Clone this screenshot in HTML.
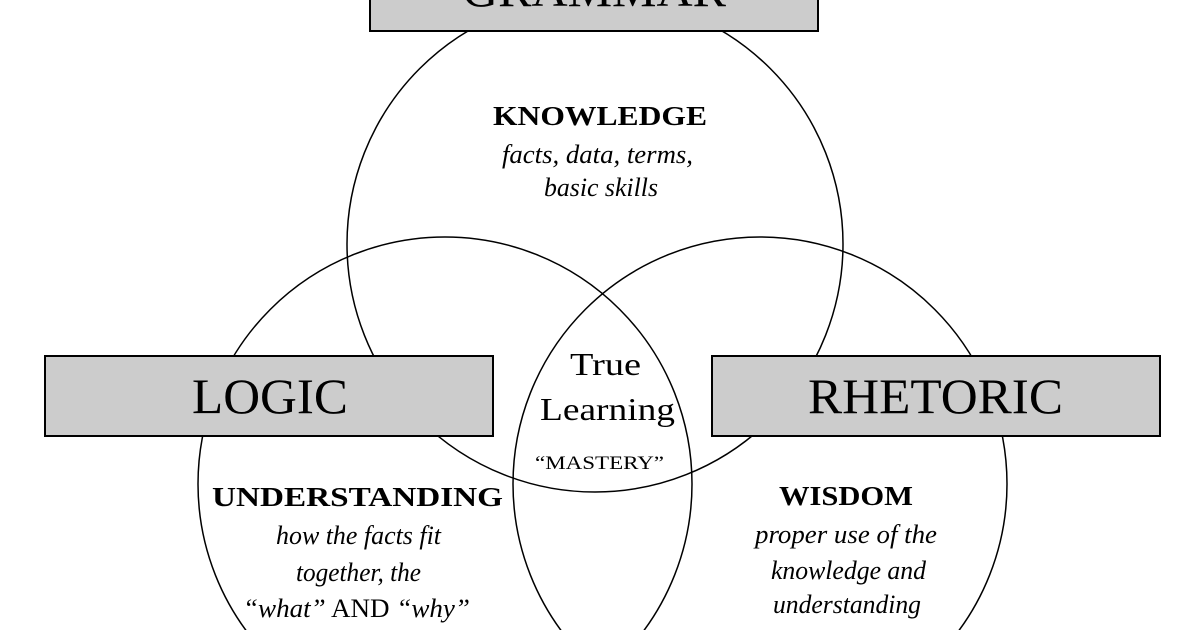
<!DOCTYPE html>
<html><head><style>
html,body{margin:0;padding:0;background:#fff;width:1200px;height:630px;overflow:hidden;}
svg{display:block;}
text{font-family:"Liberation Serif",serif;fill:#000;}
</style></head><body>
<svg width="1200" height="630" viewBox="0 0 1200 630" xmlns="http://www.w3.org/2000/svg">
<g fill="none" stroke="#000" stroke-width="1.5">
<circle cx="595" cy="244" r="248"/>
<circle cx="445" cy="484" r="247"/>
<circle cx="760" cy="484" r="247"/>
</g>
<rect x="370" y="-20" width="448" height="51" fill="#cccccc" stroke="#000" stroke-width="2"/>
<text x="594" y="6" font-size="50" text-anchor="middle">GRAMMAR</text>
<rect x="45" y="356" width="448" height="80" fill="#cccccc" stroke="#000" stroke-width="2"/>
<text x="192" y="413" font-size="50" textLength="156" lengthAdjust="spacingAndGlyphs">LOGIC</text>
<rect x="712" y="356" width="448" height="80" fill="#cccccc" stroke="#000" stroke-width="2"/>
<text x="808" y="413" font-size="50" textLength="255" lengthAdjust="spacingAndGlyphs">RHETORIC</text>
<text x="493" y="125" font-size="27" font-weight="bold" textLength="214" lengthAdjust="spacingAndGlyphs">KNOWLEDGE</text>
<text x="502" y="163" font-size="26" font-style="italic" textLength="191" lengthAdjust="spacingAndGlyphs">facts, data, terms,</text>
<text x="544" y="196" font-size="26" font-style="italic" textLength="114" lengthAdjust="spacingAndGlyphs">basic skills</text>
<text x="570" y="375" font-size="32" textLength="71" lengthAdjust="spacingAndGlyphs">True</text>
<text x="540" y="420" font-size="32" textLength="135" lengthAdjust="spacingAndGlyphs">Learning</text>
<text x="535" y="469" font-size="19" textLength="129" lengthAdjust="spacingAndGlyphs">“MASTERY”</text>
<text x="212" y="506" font-size="27" font-weight="bold" textLength="291" lengthAdjust="spacingAndGlyphs">UNDERSTANDING</text>
<text x="276" y="544" font-size="26" font-style="italic" textLength="165" lengthAdjust="spacingAndGlyphs">how the facts fit</text>
<text x="296" y="581" font-size="26" font-style="italic" textLength="125" lengthAdjust="spacingAndGlyphs">together, the</text>
<text x="243" y="617" font-size="26" textLength="227" lengthAdjust="spacingAndGlyphs"><tspan font-style="italic">“what”</tspan> AND <tspan font-style="italic">“why”</tspan></text>
<text x="779" y="505" font-size="27" font-weight="bold" textLength="134" lengthAdjust="spacingAndGlyphs">WISDOM</text>
<text x="755" y="543" font-size="26" font-style="italic" textLength="182" lengthAdjust="spacingAndGlyphs">proper use of  the</text>
<text x="771" y="579" font-size="26" font-style="italic" textLength="155" lengthAdjust="spacingAndGlyphs">knowledge and</text>
<text x="773" y="613" font-size="26" font-style="italic" textLength="148" lengthAdjust="spacingAndGlyphs">understanding</text>
</svg>
</body></html>
